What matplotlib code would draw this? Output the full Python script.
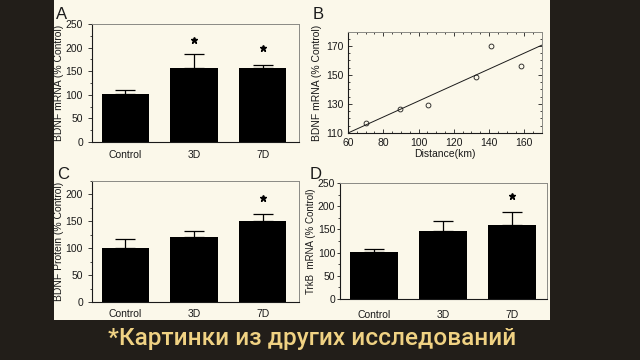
import matplotlib.pyplot as plt
from matplotlib.patches import Rectangle
from matplotlib.ticker import MultipleLocator
import numpy as np

# data
groups = ["Control", "3D", "7D"]

a_vals = [102, 157, 156]
a_caps = [110, 186, 163]
a_stars = [None, 216, 199]

c_vals = [101, 121, 151]
c_caps = [117, 132, 163]
c_stars = [None, None, 193]

d_vals = [102, 147, 160]
d_caps = [108, 168, 188]
d_stars = [None, None, 222]

dist_km = [70, 89.7, 105.6, 132.3, 141.1, 157.9]
bdnf_pct = [116.9, 126.8, 129.6, 148.3, 170.0, 156.2]
fit_x = [60, 170]
fit_y = [110, 170.5]

W, H = 640, 360
fig = plt.figure(figsize=(6.4, 3.6), dpi=100)
fig.patch.set_facecolor("#221e19")
fig.patches.append(Rectangle((54 / W, 1 - 320 / H), (550 - 54) / W, 320 / H,
                             transform=fig.transFigure, facecolor="#fbf8ea",
                             edgecolor="none", zorder=-10))

plt.rcParams["font.family"] = ["Liberation Sans", "DejaVu Sans"]
ink = "#1a1a1a"


def box(l, t, r, b):
    return [l / W, 1 - b / H, (r - l) / W, (b - t) / H]


def style(ax):
    ax.set_facecolor("none")
    for s in ["left", "bottom"]:
        ax.spines[s].set_color(ink)
        ax.spines[s].set_linewidth(0.8)
    for s in ["top", "right"]:
        ax.spines[s].set_color("#8a8a84")
        ax.spines[s].set_linewidth(0.7)
    ax.tick_params(labelsize=7.5, colors=ink, length=3, width=0.6)


def bars(rect, vals, caps, stars, ylim, ystep, ylabel, xlim, lab_x, lab_size=7.5):
    ax = fig.add_axes(rect)
    style(ax)
    x = np.arange(len(vals))
    ax.bar(x, vals, width=0.69, color="black", zorder=2)
    up = np.array(caps) - np.array(vals)
    ax.errorbar(x, vals, yerr=[np.zeros(len(vals)), up], fmt="none",
                ecolor="black", elinewidth=0.9, capsize=7, capthick=0.9, zorder=3)
    for xi, s in zip(x, stars):
        if s is not None:
            ax.plot(xi, s, marker="*", color="black", markersize=5, zorder=3)
    ax.set_ylim(*ylim)
    ax.set_xlim(*xlim)
    ax.yaxis.set_major_locator(MultipleLocator(ystep))
    ax.yaxis.set_minor_locator(MultipleLocator(ystep / 2))
    ax.tick_params(axis="y", which="minor", length=1.5, width=0.5)
    ax.tick_params(axis="x", length=0, pad=6)
    ax.set_xticks(x)
    ax.set_xticklabels(groups)
    ax.set_ylabel(ylabel, fontsize=lab_size, color=ink)
    ax.yaxis.set_label_coords(lab_x, 0.5)
    return ax


bars(box(92, 24, 299, 142), a_vals, a_caps, a_stars, (0, 250), 50,
     "BDNF mRNA (% Control)", (-0.486, 2.53), -0.135)
axc = bars(box(92, 181, 299, 302), c_vals, c_caps, c_stars, (0, 225), 50,
           "BDNF Protein (% Control)", (-0.486, 2.53), -0.135)
axc.tick_params(axis="x", pad=5)
axd = bars(box(340, 183, 547, 299), d_vals, d_caps, d_stars, (0, 250), 50,
           "TrkB  mRNA (% Control)", (-0.49, 2.51), -0.115, lab_size=7)
axd.tick_params(axis="x", pad=8)
axd.tick_params(axis="y", which="major", length=2.5, pad=1)

# panel B scatter with fitted line
axb = fig.add_axes(box(348, 32, 542, 133))
style(axb)
axb.plot(fit_x, fit_y, color=ink, lw=0.7)
axb.plot(dist_km, bdnf_pct, linestyle="none", marker="o", markersize=3.5,
         markerfacecolor="none", markeredgecolor=ink, markeredgewidth=0.6)
axb.set_xlim(60, 170)
axb.set_ylim(110, 179.5)
axb.set_xticks([60, 80, 100, 120, 140, 160])
axb.set_yticks([110, 130, 150, 170])
axb.xaxis.set_minor_locator(MultipleLocator(5))
axb.yaxis.set_minor_locator(MultipleLocator(5))
axb.tick_params(which="both", direction="in", top=True, right=True)
axb.tick_params(which="major", length=3)
axb.tick_params(which="minor", length=1.5, width=0.5)
axb.set_xlabel("Distance(km)", fontsize=7.5, color=ink, labelpad=1)
axb.set_ylabel("BDNF mRNA (% Control)", fontsize=7.5, color=ink)
axb.yaxis.set_label_coords(-0.135, 0.5)

# panel letters
for lx, ly, letter in [(56, 19, "A"), (313, 19, "B"), (57, 179, "C"), (310, 179, "D")]:
    fig.text(lx / W, 1 - ly / H, letter, fontsize=12, color=ink)

fig.text(108 / W, 1 - 345 / H, "*Картинки из других исследований",
         fontsize=17.6, color="#f0d283", fontweight="medium",
         family=["Roboto", "DejaVu Sans"])

fig.savefig("out.png", dpi=100, facecolor=fig.get_facecolor())
